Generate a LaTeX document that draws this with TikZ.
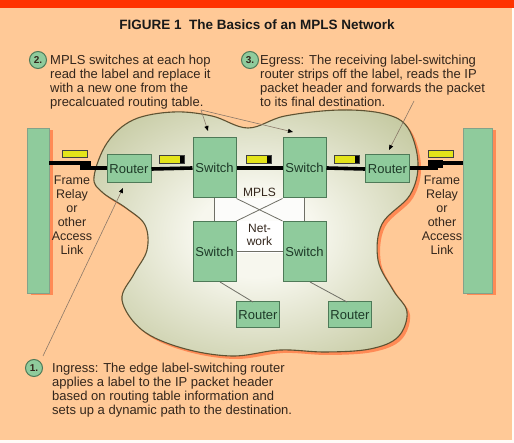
\documentclass[tikz,border=0pt]{standalone}
\usepackage{fontspec}
\setmainfont{Liberation Sans}
\usetikzlibrary{arrows.meta}
\definecolor{peach}{HTML}{FFC997}
\definecolor{redband}{HTML}{FF3300}
\definecolor{boxgreen}{HTML}{8FCB9C}
\definecolor{boxedge}{HTML}{4E7A58}
\definecolor{cloudout}{HTML}{B4BA87}
\definecolor{cloudin}{HTML}{F7F7EE}
\definecolor{cloudedge}{HTML}{5E5232}
\definecolor{shadoworange}{HTML}{FF8A55}
\definecolor{inktext}{HTML}{33261C}
\definecolor{boxtext}{HTML}{1E3A28}
\definecolor{pktyellow}{HTML}{E4E41A}
\definecolor{pointercol}{HTML}{8A7868}
\definecolor{thinline}{HTML}{6F6F66}
\pgfdeclareradialshading{cloudshade}{\pgfpoint{0bp}{0bp}}{color(0bp)=(cloudin); color(9bp)=(cloudin); color(40bp)=(cloudout); color(72bp)=(cloudout)}
\begin{document}
\begin{tikzpicture}[x=1pt,y=-1pt,
  box/.style={draw=boxedge, fill=boxgreen, line width=1pt, inner sep=0pt,
    font=\fontsize{13}{14}\selectfont, text=boxtext},
  switchbox/.style={box, minimum width=43pt, minimum height=60pt},
  routerbox/.style={box, minimum width=44pt, minimum height=28pt},
  smallrouter/.style={box, minimum width=43pt, minimum height=26pt},
  accessbar/.style={draw=boxedge!70, fill=boxgreen, line width=0.6pt, inner sep=0pt, minimum height=165pt},
  pkt/.style={draw=black!75, fill=pktyellow, line width=0.6pt, inner sep=0pt, minimum width=25pt, minimum height=8pt},
  pktend/.style={pkt, path picture={\fill[black] (path picture bounding box.north east) rectangle ([xshift=-5pt]path picture bounding box.south west -| path picture bounding box.east);}},
  wire/.style={line width=3.6pt, black},
  mesh/.style={line width=0.8pt, thinline},
  note/.style={align=left, inner sep=0pt, text=inktext, font=\fontsize{13}{14}\selectfont},
  linktext/.style={align=center, inner sep=0pt, text=inktext, font=\fontsize{12.5}{14}\selectfont},
  numcircle/.style={circle, draw=boxedge, fill=boxgreen, line width=1pt, minimum size=17pt, inner sep=0pt,
    text=inktext, font=\bfseries\fontsize{10}{10}\selectfont},
  pointer/.style={draw=pointercol, line width=0.6pt, -{Triangle[length=5pt,width=4pt,color=black]}}
]
\useasboundingbox (0,0) rectangle (514,443);
% background
\fill[white!92!peach] (0,0) rectangle (514,443);
\fill[peach] (0,0) rectangle (512,440);
\fill[redband] (0,0) rectangle (514,8);

% cloud
\def\cloudpts{(94,177) (107,143) (133,120) (173,112) (212,116) (248,128) (285,116) (340,110) (385,114) (408,128) (418,163) (410,195) (382,224) (378,260) (393,290) (407,312) (398,337) (370,349) (325,352) (280,350) (232,356) (182,348) (142,330) (122,300) (134,274) (147,250) (145,225) (126,208) (102,192)}
\fill[shadoworange, xshift=3pt, yshift=-3pt] plot[smooth cycle, tension=0.6] coordinates {\cloudpts};
\shadedraw[shading=cloudshade, draw=cloudedge, line width=1.1pt] plot[smooth cycle, tension=0.6] coordinates {\cloudpts};

% central white area
\fill[white, opacity=0.75] (214,198) rectangle (304,253);
\fill[white] (236,221) rectangle (283,253);

% access bars
\fill[shadoworange] (31,130) rectangle (53,295);
\fill[shadoworange] (467,130) rectangle (496,295);
\node[accessbar, minimum width=22pt] (barL) at (38,210.5) {};
\node[accessbar, minimum width=29pt] (barR) at (477.5,210.5) {};

% network nodes
\node[switchbox] (s1) at (214.5,168) {Switch};
\node[switchbox] (s2) at (304.5,168) {Switch};
\node[switchbox] (s3) at (214.5,251.5) {Switch};
\node[switchbox] (s4) at (304.5,251.5) {Switch};
\node[routerbox] (rL) at (129,169) {Router};
\node[routerbox] (rR) at (387.5,169) {Router};
\node[smallrouter] (rB1) at (258,315) {Router};
\node[smallrouter] (rB2) at (350,315) {Router};

\node[font=\fontsize{12}{13}\selectfont, text=inktext, inner sep=0pt] (mpls) at (259.5,192) {MPLS};
\node[font=\fontsize{12}{13}\selectfont, text=inktext, inner sep=0pt, align=center] (net) at (259.5,234.5) {Net-\\work};

% mesh connectors
\draw[mesh] (s1.south) -- (s3.north);
\draw[mesh] (s2.south) -- (s4.north);
\draw[mesh] (s3.east) -- (s4.west);
\draw[mesh] (s1.south east) -- (s4.north west);
\draw[mesh] (s2.south west) -- (s3.north east);
\coordinate (s3b) at (220,282); \coordinate (rb1t) at (253,302);
\coordinate (s4b) at (310,282); \coordinate (rb2t) at (347,302);
\draw[mesh] (s3b) -- (rb1t);
\draw[mesh] (s4b) -- (rb2t);

% main path
\draw[wire] (rL.east) -- (s1.west);
\draw[wire] (s1.east) -- (s2.west);
\draw[wire] (s2.east) -- (rR.west);
\coordinate (jL1) at (85,163); \coordinate (jL2) at (85,168);
\draw[wire] (barL.east |- jL1) -- (jL1) -- (jL2) -- (rL.west |- jL2);
\fill[black] (80,161.5) rectangle (91,170);
\coordinate (jR1) at (436,168); \coordinate (jR2) at (436,163);
\draw[wire] (rR.east |- jR1) -- (jR1) -- (jR2) -- (barR.west |- jR2);
\fill[black] (428,160) rectangle (443,168);

% packets
\node[pkt, minimum height=7pt] (pL) at (74.5,153.5) {};
\node[pkt, minimum height=7pt] (pR) at (440.5,153.5) {};
\node[pktend] (pk1) at (172,159) {};
\node[pktend] (pk2) at (259,159) {};
\node[pktend] (pk3) at (347,159) {};

% link labels
\node[linktext] (fL) at (72,215) {Frame\\Relay\\or\\other\\Access\\Link};
\node[linktext] (fR) at (442,215) {Frame\\Relay\\or\\other\\Access\\Link};

% title
\node[font=\bfseries\fontsize{13.5}{16}\selectfont, text=black!90, inner sep=0pt] (title) at (257,25) {FIGURE 1\ \ The Basics of an MPLS Network};

% notes
\node[numcircle] (n2) at (38,60) {2.};
\node[note, anchor=north west] (t2) at (50,55) {MPLS switches at each hop\\read the label and replace it\\with a new one from the\\precalcuated routing table.};
\node[numcircle] (n3) at (250,60) {3.};
\node[note, anchor=north west] (t3) at (260,55) {Egress: The receiving label-switching\\router strips off the label, reads the IP\\packet header and forwards the packet\\to its final destination.};
\node[numcircle] (n1) at (34,368) {1.};
\node[note, anchor=north west] (t1) at (52,363) {Ingress: The edge label-switching router\\applies a label to the IP packet header\\based on routing table information and\\sets up a dynamic path to the destination.};

% pointers
\coordinate (c2) at (201,110);
\coordinate (h2a) at (208,131);
\coordinate (h2b) at (293,132);
\draw[pointer] (c2) -- (h2a);
\draw[pointer] (c2) -- (h2b);
\coordinate (c3) at (414,101);
\coordinate (h3) at (389,150);
\draw[pointer] (c3) -- (h3);
\coordinate (c1) at (43,356);
\coordinate (h1) at (123,188);
\draw[pointer] (c1) -- (h1);
\end{tikzpicture}
\end{document}
